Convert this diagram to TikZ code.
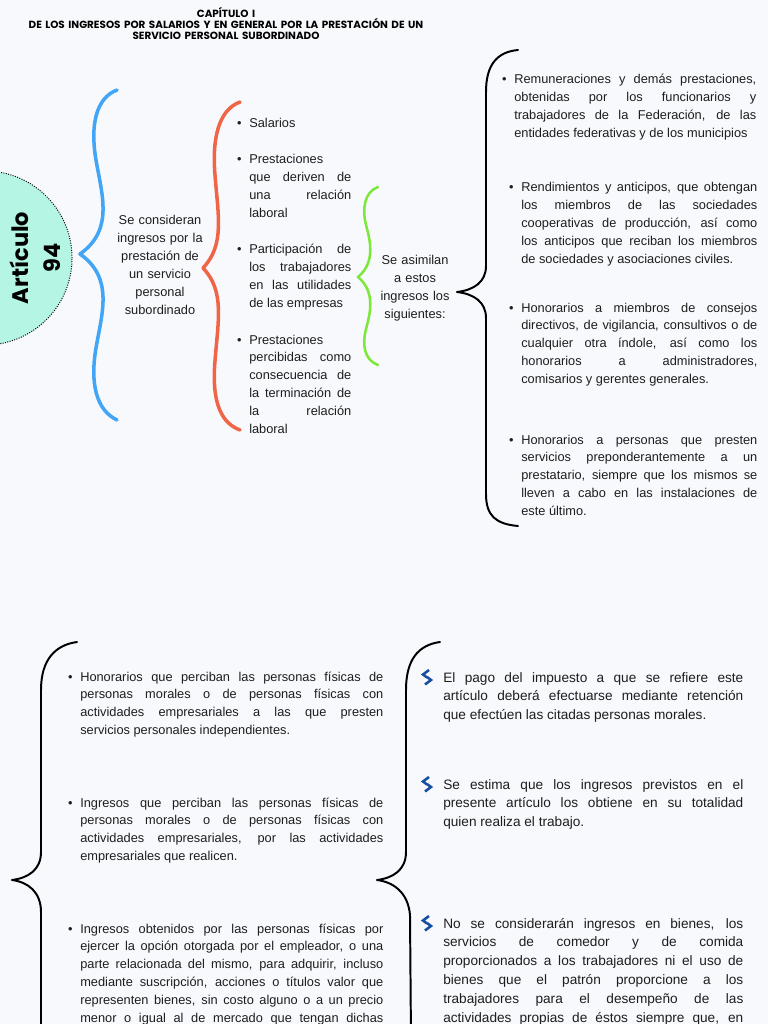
\documentclass[tikz,border=0pt]{standalone}
\usepackage{fontspec}
\setmainfont{Liberation Sans}
\newfontfamily\headfont{Poppins}
\usetikzlibrary{positioning}

\definecolor{bgc}{RGB}{248,249,253}
\definecolor{ink}{RGB}{30,30,30}
\definecolor{azul}{RGB}{66,165,245}
\definecolor{naranja}{RGB}{240,101,72}
\definecolor{verde}{RGB}{124,232,60}
\definecolor{menta}{RGB}{180,245,228}
\definecolor{azulosc}{RGB}{22,78,160}

\newcommand\bul{\leavevmode\llap{\textbullet\hspace{0.19cm}}}

\tikzset{
  dbul/.pic={
    \draw[azulosc,line width=1.8pt,line cap=butt,line join=miter] (2,-7)--(-4,-2.5)--(0,0.5);
    \draw[azulosc,line width=1.8pt,line cap=butt,line join=miter] (0,0)--(4,3)--(-2,7.5);
  }
}

\begin{document}
\begin{tikzpicture}[x=0.025cm,y=-0.025cm,
  txt/.style={font=\fontsize{9.1}{12.76}\selectfont,text=ink,inner sep=0pt},
  item/.style={txt,align=justify,anchor=base west},
  itemb/.style={item,font=\fontsize{9.7}{13.47}\selectfont},
  midtxt/.style={txt,align=center,anchor=base},
  llave/.style={line width=1.4pt,line cap=round,line join=round}]
  \fill[bgc] (0,0) rectangle (768,1024);
  \useasboundingbox (0,0) rectangle (768,1024);
  \clip (0,0) rectangle (768,1024);

  % titulo
  \node (title) [font=\headfont\bfseries\fontsize{7.4}{7.8}\selectfont,align=center,anchor=base,inner sep=0pt,text width=13cm,text=black] at (226,18)
    {CAPÍTULO I\\DE LOS INGRESOS POR SALARIOS Y EN GENERAL POR LA PRESTACIÓN DE UN\\SERVICIO PERSONAL SUBORDINADO};

  % circulo
  \node (circ) [circle,draw,densely dotted,line width=0.7pt,fill=menta,minimum size=4.35cm,inner sep=0pt] at (-15,258) {};
  \node (art) [rotate=90,font=\headfont\bfseries\fontsize{16}{22.7}\selectfont,align=center,text width=3cm,inner sep=0pt] at (35,258) {Artículo\\94};

  % llaves de colores
  \draw[llave,azul,line width=2.5pt] (117,90) .. controls (96,98) and (90,125) .. (96,160) .. controls (102,195) and (114,230) .. (80,254)
    .. controls (114,278) and (102,313) .. (96,348) .. controls (90,383) and (96,410) .. (117,420);
  \draw[llave,naranja,line width=2.5pt] (240,102) .. controls (218,110) and (212,140) .. (215,175) .. controls (218,215) and (225,245) .. (203,268)
    .. controls (225,291) and (218,321) .. (215,361) .. controls (212,396) and (218,422) .. (240,430);
  \draw[llave,verde,line width=1.8pt] (378,187) .. controls (364,192) and (362,210) .. (366,225) .. controls (370,240) and (376,262) .. (358,277)
    .. controls (376,292) and (370,314) .. (366,329) .. controls (362,344) and (364,360) .. (378,365);

  % llaves negras
  \draw[llave] (518,50) .. controls (496,52) and (486,66) .. (486,92) -- (486,266) .. controls (486,282) and (474,290) .. (457,292)
    .. controls (474,294) and (486,302) .. (486,318) -- (486,494) .. controls (486,516) and (496,524) .. (518,526);
  \draw[llave] (77,642) .. controls (55,645) and (41,660) .. (41,690) -- (41,852) .. controls (41,870) and (28,878) .. (12,880)
    .. controls (28,882) and (41,892) .. (41,912) -- (41,1040);
  \draw[llave] (440,642) .. controls (418,645) and (406,660) .. (406,690) -- (406,852) .. controls (406,870) and (393,878) .. (377,880)
    .. controls (393,882) and (408,892) .. (410,915) -- (411,1040);

  % textos centrales
  \node (cons) [midtxt,text width=2.5cm] at (160,225) {Se consideran\\ingresos por la\\prestación de\\un servicio\\personal\\subordinado};
  \node (asim) [midtxt,text width=2.3cm] at (415,265) {Se asimilan\\a estos\\ingresos los\\siguientes:};

  % lista naranja
  \node (o1) [item,text width=2.55cm] at (249,128) {\bul Salarios};
  \node (o2) [item,text width=2.55cm] at (249,164) {\bul Prestaciones\newline que deriven de\linebreak una relación\linebreak laboral};
  \node (o3) [item,text width=2.55cm] at (249,254) {\bul Participación de\linebreak los trabajadores\linebreak en las utilidades\linebreak de las empresas};
  \node (o4) [item,text width=2.55cm] at (249,344) {\bul Prestaciones\newline percibidas como\linebreak consecuencia de\linebreak la terminación de\linebreak la relación\linebreak laboral};

  % lista derecha
  \node (r1) [item,text width=6.05cm] at (514,84) {\bul Remuneraciones y demás prestaciones,\linebreak obtenidas por los funcionarios y\linebreak trabajadores de la Federación, de las\linebreak entidades federativas y de los municipios};
  \node (r2) [item,text width=5.9cm] at (521,192) {\bul Rendimientos y anticipos, que obtengan\linebreak los miembros de las sociedades\linebreak cooperativas de producción, así como\linebreak los anticipos que reciban los miembros\linebreak de sociedades y asociaciones civiles.};
  \node (r3) [item,text width=5.9cm] at (521,312) {\bul Honorarios a miembros de consejos\linebreak directivos, de vigilancia, consultivos o de\linebreak cualquier otra índole, así como los\linebreak honorarios a administradores,\linebreak comisarios y gerentes generales.};
  \node (r4) [item,text width=5.9cm] at (521,444) {\bul Honorarios a personas que presten\linebreak servicios preponderantemente a un\linebreak prestatario, siempre que los mismos se\linebreak lleven a cabo en las instalaciones de\linebreak este último.};

  % lista inferior izquierda
  \node (b1) [item,text width=7.575cm] at (80,681) {\bul Honorarios que perciban las personas físicas de\linebreak personas morales o de personas físicas con\linebreak actividades empresariales a las que presten\linebreak servicios personales independientes.};
  \node (b2) [item,text width=7.575cm] at (80,807) {\bul Ingresos que perciban las personas físicas de\linebreak personas morales o de personas físicas con\linebreak actividades empresariales, por las actividades\linebreak empresariales que realicen.};
  \node (b3) [item,text width=7.575cm] at (80,933) {\parfillskip=0pt\bul Ingresos obtenidos por las personas físicas por\linebreak ejercer la opción otorgada por el empleador, o una\linebreak parte relacionada del mismo, para adquirir, incluso\linebreak mediante suscripción, acciones o títulos valor que\linebreak representen bienes, sin costo alguno o a un precio\linebreak menor o igual al de mercado que tengan dichas\par};

  % lista inferior derecha
  \node (p1) [itemb,text width=7.5cm] at (443,682) {El pago del impuesto a que se refiere este\linebreak artículo deberá efectuarse mediante retención\linebreak que efectúen las citadas personas morales.};
  \node (p2) [itemb,text width=7.5cm] at (443,789) {Se estima que los ingresos previstos en el\linebreak presente artículo los obtiene en su totalidad\linebreak quien realiza el trabajo.};
  \node (p3) [itemb,text width=7.5cm] at (443,928) {\parfillskip=0pt No se considerarán ingresos en bienes, los\linebreak servicios de comedor y de comida\linebreak proporcionados a los trabajadores ni el uso de\linebreak bienes que el patrón proporcione a los\linebreak trabajadores para el desempeño de las\linebreak actividades propias de éstos siempre que, en\par};
  \pic at ([shift={(-16,-5)}]p1.base west) {dbul};
  \pic at ([shift={(-16,-5)}]p2.base west) {dbul};
  \pic at ([shift={(-16,-5)}]p3.base west) {dbul};
\end{tikzpicture}
\end{document}
